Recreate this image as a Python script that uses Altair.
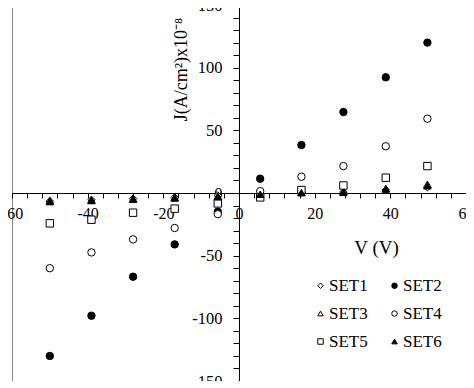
import altair as alt
import pandas as pd

# ---- data ----
V = [-50, -39, -28, -17, -5.6, 5.6, 16.5, 27.6, 38.8, 49.8]
SET1 = [-6.5, -5.5, -4.5, -3.5, -2.0, -0.5, 0.3, 0.8, 2.5, 4.5]
SET2 = [-130, -97.9, -66.8, -41, -14.9, 11.4, 38.3, 64.6, 92.3, 120]
SET3 = [-6.0, -5.5, -4.5, -3.5, -2.5, -0.8, 0.5, 1.0, 3.5, 7.0]
SET4 = [-60, -47.4, -37, -27.9, -16.9, 1.5, 13, 21.5, 37.3, 59.3]
SET5 = [-24.2, -21.3, -15.7, -12.5, -8.3, -3.5, 2.4, 6.0, 12.2, 21.5]
SET6 = [-6.9, -6.0, -5.0, -4.0, -3.0, -1.0, 0.3, 0.5, 3.2, 5.8]

series_names = ["SET1", "SET2", "SET3", "SET4", "SET5", "SET6"]
series_vals = [SET1, SET2, SET3, SET4, SET5, SET6]
shapes = ["diamond", "circle", "triangle-up", "circle", "square", "triangle-up"]
fills = ["white", "black", "white", "white", "white", "black"]
strokes = ["black"] * 6

x_ticks = list(range(-60, 61, 4))
y_ticks = list(range(-150, 151, 10))

rows = []
for name, vals in zip(series_names, series_vals):
    for v, j in zip(V, vals):
        rows.append({"V": v, "J": j, "set": name})
df = pd.DataFrame(rows)

FONT = "Liberation Serif"

legend = alt.Legend(
    title=None, orient="none", legendX=300, legendY=272, columns=2,
    direction="horizontal",
    labelFont=FONT, labelFontSize=17, labelColor="black", labelOffset=0,
    symbolSize=30, symbolStrokeWidth=1,
    symbolOpacity=1, columnPadding=18, rowPadding=10,
)

chart = alt.Chart(df).mark_point(
    filled=True, strokeWidth=1, opacity=1, size=55
).encode(
    x=alt.X("V:Q",
            scale=alt.Scale(domain=[-60, 60], nice=False, zero=False),
            axis=alt.Axis(values=x_ticks,
                          labelExpr="datum.value % 20 == 0 ? '' + datum.value : ''",
                          offset=-188, tickSize=5, labelPadding=7,
                          domainColor="black", tickColor="black", grid=False,
                          labelFont=FONT, labelFontSize=16, labelColor="black",
                          labelFlush=False, labelOverlap=False, labelBound=False,
                          title="V (V)", titleFont=FONT, titleFontSize=19,
                          titleFontWeight="normal", titleColor="black",
                          titleX=364, titleY=54, titleAlign="center",
                          titleBaseline="middle")),
    y=alt.Y("J:Q",
            scale=alt.Scale(domain=[-150, 150], nice=False, zero=False),
            axis=alt.Axis(values=y_ticks,
                          labelExpr="datum.value % 50 == 0 ? '' + datum.value : ''",
                          offset=-227, tickSize=6, labelPadding=11,
                          domainColor="black", tickColor="black", grid=False,
                          labelFont=FONT, labelFontSize=16.5, labelColor="black",
                          labelFlush=False, labelOverlap=False, labelBound=False,
                          title="J(A/cm²)x10⁻⁸", titleFont=FONT, titleFontSize=18,
                          titleFontWeight="normal", titleColor="black",
                          titleAngle=270, titleX=-58, titleY=64,
                          titleAlign="center", titleBaseline="middle")),
    shape=alt.Shape("set:N", scale=alt.Scale(domain=series_names, range=shapes), legend=legend),
    fill=alt.Fill("set:N", scale=alt.Scale(domain=series_names, range=fills), legend=legend),
    stroke=alt.Stroke("set:N", scale=alt.Scale(domain=series_names, range=strokes), legend=legend),
).properties(
    width=454, height=376,
    autosize=alt.AutoSizeParams(type="none"),
    padding={"left": 4, "top": -3, "right": 0, "bottom": 0},
).configure(
    font=FONT, background="white"
).configure_view(
    stroke="#8a8a8a", strokeWidth=1
)

chart.save("out.html", embed_options={"renderer": "svg", "actions": False})
